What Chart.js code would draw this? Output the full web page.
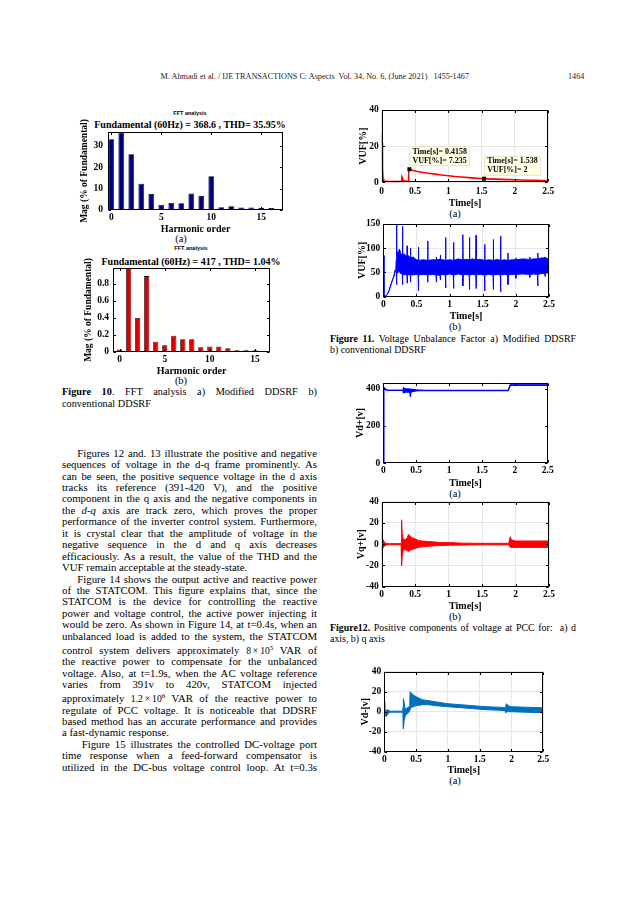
<!DOCTYPE html>
<html>
<head>
<meta charset="utf-8">
<script src="https://cdn.jsdelivr.net/npm/chart.js@4.4.0/dist/chart.umd.min.js"></script>
<style>
html,body{margin:0;padding:0;background:#fff;}
#page{position:relative;width:638px;height:902px;overflow:hidden;background:#fff;font-family:"Liberation Serif","Times New Roman",serif;color:#000;}
.t{position:absolute;white-space:nowrap;line-height:1;}
canvas{position:absolute;}
</style>
</head>
<body>
<div id="page"></div>
<script>
// ---------------- DATA ----------------
const fftHarm = [0,1,2,3,4,5,6,7,8,9,10,11,12,13,14,15,16];
const fftA = [33, 36.2, 26, 12.3, 7.5, 2.5, 3.3, 3.2, 7.7, 6.5, 15.8, 1.3, 1.8, 1.2, 1.2, 1.0, 0.9];
const fftB = [0.03, 1.0, 0.40, 0.89, 0.12, 0.08, 0.19, 0.15, 0.15, 0.055, 0.065, 0.065, 0.045, 0.02, 0.02, 0.02, 0.005];
const fftXTicks = [0, 5, 10, 15];
const fftAYTicks = [0, 10, 20, 30];
const fftBYTicks = [0, 0.2, 0.4, 0.6, 0.8];
const timeTicks = [0, 0.5, 1, 1.5, 2, 2.5];

// Fig 11 (a) VUF modified DDSRF
const vufA_t = [0, 0.005, 0.012, 0.02, 0.03, 0.05, 0.1, 0.2, 0.29, 0.30, 0.305, 0.31, 0.32, 0.34, 0.37, 0.40, 0.405, 0.4158, 0.45, 0.5, 0.6, 0.7, 0.8, 0.9, 1.0, 1.1, 1.2, 1.3, 1.4, 1.538, 1.6, 1.7, 1.8, 1.9, 2.0, 2.1, 2.2, 2.3, 2.4, 2.5];
const vufA_v = [27, 22, 8, 2, 0.8, 0.5, 0.4, 0.4, 0.4, 1.5, 2.8, 2.2, 1.2, 0.8, 0.6, 0.6, 5.5, 7.235, 6.8, 6.3, 5.6, 5.0, 4.5, 4.0, 3.6, 3.2, 2.9, 2.6, 2.3, 2.0, 1.9, 1.75, 1.6, 1.5, 1.4, 1.25, 1.15, 1.05, 0.95, 0.85];
const vufA_tipT = [0.4158, 1.538];
const vufA_tipV = [7.235, 2];
const vufYTicks = [0, 20, 40];

// Fig 11 (b) VUF conventional DDSRF (upper / lower envelope of the band)
const vufB_t  = [0, 0.008, 0.02, 0.04, 0.06, 0.08, 0.10, 0.12, 0.14, 0.16, 0.18,
  0.19, 0.196, 0.20, 0.204, 0.22, 0.245, 0.26, 0.286, 0.29, 0.294, 0.32, 0.356, 0.36, 0.364, 0.38, 0.406, 0.41, 0.414, 0.45, 0.5, 0.526, 0.53, 0.534, 0.6, 0.666, 0.67, 0.674, 0.74, 0.796, 0.80, 0.804, 0.856, 0.86, 0.864, 0.9, 0.936, 0.94, 0.944, 1.0, 1.056, 1.06, 1.064, 1.13, 1.196, 1.20, 1.204, 1.25, 1.296, 1.30, 1.304, 1.35, 1.396, 1.40, 1.404, 1.46, 1.526, 1.53, 1.534, 1.6, 1.656, 1.66, 1.664, 1.72, 1.766, 1.77, 1.774, 1.83, 1.876, 1.88, 1.884, 1.94, 1.996, 2.0, 2.004, 2.1, 2.206, 2.21, 2.214, 2.27, 2.326, 2.33, 2.334, 2.39, 2.436, 2.44, 2.444, 2.5];
const vufB_hi = [85, 5, 1, 2, 5, 10, 18, 27, 35, 42, 55,
  62, 78, 148, 85, 92, 98, 90, 85, 145, 88, 88, 82, 105, 82, 85, 80, 100, 80, 82, 76, 76, 102, 75, 76, 75, 115, 75, 76, 76, 82, 76, 77, 86, 77, 76, 75, 122, 75, 76, 75, 112, 75, 78, 76, 128, 76, 77, 76, 122, 76, 78, 76, 127, 76, 77, 75, 108, 75, 76, 75, 118, 75, 77, 75, 125, 75, 76, 75, 90, 75, 76, 76, 80, 76, 78, 77, 82, 77, 78, 78, 90, 78, 80, 80, 82, 80, 78];
const vufB_lo = [85, 5, 1, 2, 5, 10, 18, 27, 35, 42, 55,
  55, 50, 25, 48, 50, 52, 48, 47, 25, 47, 45, 46, 28, 46, 45, 46, 30, 45, 45, 46, 45, 12, 45, 46, 45, 30, 45, 46, 45, 30, 45, 44, 35, 45, 46, 45, 18, 45, 47, 45, 17, 45, 47, 45, 22, 45, 46, 45, 15, 45, 46, 45, 17, 45, 46, 45, 12, 45, 46, 45, 15, 45, 46, 45, 10, 45, 46, 45, 25, 45, 46, 46, 38, 46, 47, 46, 40, 46, 47, 46, 22, 46, 48, 48, 42, 48, 50];
const vufBYTicks = [0, 50, 100, 150];

// Fig 12 (a) Vd+
const vdp_t  = [0, 0.003, 0.01, 0.02, 0.04, 0.06, 0.3, 0.305, 0.32, 0.35, 0.38, 0.405, 0.41, 0.415, 0.45, 0.5, 0.55, 0.6, 1.0, 1.9, 1.93, 1.95, 2.5];
const vdp_hi = [0, 400, 405, 402, 395, 391, 391, 405, 402, 398, 399, 396, 380, 398, 397, 394, 393, 392, 391, 391, 421, 421, 421];
const vdp_lo = [0, 400, 405, 402, 395, 391, 391, 378, 380, 383, 382, 380, 360, 380, 385, 388, 389, 390, 390, 390, 418, 418, 418];
const vdpYTicks = [0, 200, 400];

// Fig 12 (b) Vq+
const vqp_t  = [0, 0.005, 0.01, 0.02, 0.04, 0.06, 0.1, 0.29, 0.295, 0.30, 0.305, 0.32, 0.35, 0.38, 0.40, 0.42, 0.45, 0.5, 0.55, 0.6, 0.7, 0.8, 0.9, 1.0, 1.2, 1.5, 1.9, 1.91, 1.92, 1.94, 2.0, 2.2, 2.5];
const vqp_hi = [12, 10, 6, 4, 2, 1, 0.5, 0.5, 8, 23, 10, 5, 4, 6, 9, 8, 6, 5, 3.5, 3, 2.5, 2, 1.5, 1.5, 1, 0.8, 0.8, 4, 7, 4, 3, 3, 3];
const vqp_lo = [-10, -8, -5, -3, -2, -1, -0.5, -0.5, -5, -20, -12, -6, -5, -6, -7, -6, -5, -4, -3, -2.5, -2, -1.5, -1.2, -1, -0.8, -0.6, -0.6, -2, -3, -3, -3, -3, -3];
const symYTicks = [-40, -20, 0, 20, 40];

// Fig 13 (a) Vd-
const vdn_t  = [0, 0.005, 0.01, 0.02, 0.03, 0.05, 0.08, 0.1, 0.29, 0.295, 0.30, 0.31, 0.33, 0.36, 0.39, 0.40, 0.405, 0.42, 0.45, 0.5, 0.6, 0.7, 0.8, 0.9, 1.0, 1.2, 1.4, 1.6, 1.8, 1.9, 1.91, 1.92, 1.95, 2.0, 2.2, 2.5];
const vdn_hi = [10, 8, 3, 2, 1, 2, 1, 0.5, 0.5, 5, 13, 10, 2, 4, 5, 6, 20, 19, 17, 15, 12, 11, 10, 9, 8, 7, 6, 5, 4.5, 4, 6, 8, 6, 5, 4.5, 4];
const vdn_lo = [-2, -5, -4, -3, -5, -3, -1, -0.5, -0.5, -3, -17, -10, -4, -2, 0, 0, 2, 4, 5, 6, 7, 7, 6, 5.5, 5, 4, 3, 2, 1.5, 1, -1, 0, 0, 0, -0.5, -1];

// ---------------- PAGE ----------------
const page = document.getElementById('page');
const SERIF = '"Liberation Serif", "Times New Roman", serif';
const SANS = '"Liberation Sans", Arial, sans-serif';

function txt(html, x, y, o) {
  o = o || {};
  const d = document.createElement('div');
  d.className = 't';
  const size = o.size || 10.5;
  d.style.fontSize = size + 'px';
  d.style.fontWeight = o.weight || 'normal';
  d.style.fontFamily = o.family || SERIF;
  if (o.color) d.style.color = o.color;
  if (o.align === 'center') {
    d.style.left = (x - 150) + 'px'; d.style.width = '300px'; d.style.textAlign = 'center';
  } else if (o.align === 'right') {
    d.style.left = (x - 400) + 'px'; d.style.width = '400px'; d.style.textAlign = 'right';
  } else if (o.w) {
    d.style.left = x + 'px'; d.style.width = o.w + 'px'; d.style.whiteSpace = 'normal';
    if (o.justify) { d.style.textAlign = 'justify'; d.style.textAlignLast = 'justify'; }
  } else {
    d.style.left = x + 'px';
  }
  d.style.top = (y - size / 2) + 'px';
  d.innerHTML = html;
  page.appendChild(d);
}

// header
txt('M. Ahmadi et al. / IJE TRANSACTIONS C: Aspects&nbsp; Vol. 34, No. 6, (June 2021)&nbsp;&nbsp; 1455-1467', 469, 77, {size: 8.2, align: 'right', color: '#222'});
txt('1464', 568, 77, {size: 8.2, color: '#222'});

// FFT titles / labels
txt('FFT analysis', 190, 114, {size: 5.5, weight: 'bold', family: SANS, align: 'center'});
txt('Fundamental (60Hz) = 368.6 , THD= 35.95%', 190, 125, {size: 10, weight: 'bold', align: 'center'});
txt('(a)', 181, 239, {size: 10.5, align: 'center'});
txt('FFT analysis', 191, 249, {size: 5.5, weight: 'bold', family: SANS, align: 'center'});
txt('Fundamental (60Hz) = 417 , THD= 1.04%', 191, 261.5, {size: 10, weight: 'bold', align: 'center'});
txt('(b)', 181, 381, {size: 10.5, align: 'center'});

// left caption
txt('<b>Figure 10</b>. FFT analysis a) Modified DDSRF b)', 62, 392.5, {size: 10.3, w: 255, justify: true});
txt('conventional DDSRF', 62, 404, {size: 10.3});

// right labels and captions
txt('(a)', 455, 214, {size: 10.5, align: 'center'});
txt('(b)', 455, 327.5, {size: 10.5, align: 'center'});
txt('<b>Figure 11.</b> Voltage Unbalance Factor a) Modified DDSRF', 330, 338.5, {size: 9.9, w: 246, justify: true});
txt('b) conventional DDSRF', 330, 349.5, {size: 9.9});
txt('(a)', 455, 494, {size: 10.5, align: 'center'});
txt('(b)', 455, 617, {size: 10.5, align: 'center'});
txt('<b>Figure12.</b> Positive components of voltage at PCC for:&nbsp; a) d', 330, 628, {size: 9.9, w: 246, justify: true});
txt('axis, b) q axis', 330, 639, {size: 9.9});
txt('(a)', 455, 781, {size: 10.5, align: 'center'});

// body text
const sup5 = '<span style="font-size:9.6px">8&thinsp;×&thinsp;10<span style="font-size:7px;position:relative;top:-4px">5</span></span>';
const sup6 = '<span style="font-size:9.6px">1.2&thinsp;×&thinsp;10<span style="font-size:7px;position:relative;top:-4px">6</span></span>';
const bodyLines = [
  ['&nbsp;&nbsp;&nbsp;&nbsp;Figures 12 and. 13 illustrate the positive and negative', 1],
  ['sequences of voltage in the d-q frame prominently. As', 1],
  ['can be seen, the positive sequence voltage in the d axis', 1],
  ['tracks its reference (391-420 V), and the positive', 1],
  ['component in the q axis and the negative components in', 1],
  ['the <i>d-q</i> axis are track zero, which proves the proper', 1],
  ['performance of the inverter control system. Furthermore,', 1],
  ['it is crystal clear that the amplitude of voltage in the', 1],
  ['negative sequence in the d and q axis decreases', 1],
  ['efficaciously. As a result, the value of the THD and the', 1],
  ['VUF remain acceptable at the steady-state.', 0],
  ['&nbsp;&nbsp;&nbsp;&nbsp;Figure 14 shows the output active and reactive power', 1],
  ['of the STATCOM. This figure explains that, since the', 1],
  ['STATCOM is the device for controlling the reactive', 1],
  ['power and voltage control, the active power injecting it', 1],
  ['would be zero. As shown in Figure 14, at t=0.4s, when an', 1],
  ['unbalanced load is added to the system, the STATCOM', 1],
  ['control system delivers approximately ' + sup5 + ' VAR of', 1],
  ['the reactive power to compensate for the unbalanced', 1],
  ['voltage. Also, at t=1.9s, when the AC voltage reference', 1],
  ['varies from 391v to 420v, STATCOM injected', 1],
  ['approximately ' + sup6 + ' VAR of the reactive power to', 1],
  ['regulate of PCC voltage. It is noticeable that DDSRF', 1],
  ['based method has an accurate performance and provides', 1],
  ['a fast-dynamic response.', 0],
  ['&nbsp;&nbsp;&nbsp;&nbsp;Figure 15 illustrates the controlled DC-voltage port', 1],
  ['time response when a feed-forward compensator is', 1],
  ['utilized in the DC-bus voltage control loop. At t=0.3s', 1]
];
bodyLines.forEach((l, i) => {
  let y = 453 + i * 11.45 + (i >= 17 ? 2.5 : 0) + (i >= 21 ? 2.5 : 0);
  if (l[1]) txt(l[0], 62, y, {size: 10.8, w: 255, justify: true});
  else txt(l[0], 62, y, {size: 10.8});
});

// ---------------- CHARTS ----------------
const framePlugin = {
  id: 'frame',
  afterDatasetsDraw(chart) {
    const a = chart.chartArea, ctx = chart.ctx;
    const L = Math.round(a.left) + 0.5, T = Math.round(a.top) + 0.5, R = Math.round(a.right) - 0.5, B = Math.round(a.bottom) - 0.5;
    ctx.save();
    ctx.strokeStyle = '#000'; ctx.lineWidth = 1;
    ctx.strokeRect(L, T, R - L, B - T);
    const tl = 2.5;
    ctx.beginPath();
    chart.scales.x.ticks.forEach(t => {
      const px = Math.round(chart.scales.x.getPixelForValue(t.value)) + 0.5;
      ctx.moveTo(px, B); ctx.lineTo(px, B - tl);
      ctx.moveTo(px, T); ctx.lineTo(px, T + tl);
    });
    chart.scales.y.ticks.forEach(t => {
      const py = Math.round(chart.scales.y.getPixelForValue(t.value)) + 0.5;
      ctx.moveTo(L, py); ctx.lineTo(L + tl, py);
      ctx.moveTo(R, py); ctx.lineTo(R - tl, py);
    });
    ctx.stroke();
    ctx.restore();
  }
};

function plot(c) {
  const yTS = c.yTitleSize || 10, xTS = c.xTitleSize || 10, tS = c.tickSize || 9.5;
  const CL = Math.floor(c.yTitleX - yTS * 0.6 - 1);
  const CT = Math.floor(c.PT - (c.topMargin || 10));
  const CR = Math.ceil(c.PR + 12);
  const CB = Math.ceil(c.xTitleY + xTS * 0.6);
  const W = CR - CL, H = CB - CT;
  const cv = document.createElement('canvas');
  cv.style.left = CL + 'px'; cv.style.top = CT + 'px';
  cv.style.width = W + 'px'; cv.style.height = H + 'px';
  cv.width = W; cv.height = H;
  page.appendChild(cv);
  const tickFont = {family: SERIF, size: tS, weight: 'bold'};
  const grid = {display: !!c.grid, color: '#e0e0e0', lineWidth: 0.8, drawTicks: false};
  new Chart(cv, {
    type: c.type,
    data: {datasets: c.datasets},
    options: {
      responsive: false, maintainAspectRatio: false, animation: false, events: [],
      layout: {padding: {left: 0, top: c.PT - CT, right: CR - c.PR, bottom: 0}},
      plugins: {legend: {display: false}, tooltip: {enabled: false}, title: {display: false}},
      scales: {
        x: {
          type: 'linear', min: c.xMin, max: c.xMax, offset: false,
          afterBuildTicks: s => { s.ticks = c.xTicks.map(v => ({value: v})); },
          afterFit: s => { s.height = CB - c.PB; },
          ticks: {autoSkip: false, maxRotation: 0, padding: c.xTickY - c.PB - 0.6 * tS, color: '#000', font: tickFont, callback: v => String(v)},
          grid: grid, border: {display: false},
          title: {display: true, text: c.xTitle, color: '#000', font: {family: SERIF, size: xTS, weight: 'bold'}, padding: {top: 0, bottom: 0}}
        },
        y: {
          type: 'linear', min: c.yMin, max: c.yMax,
          afterBuildTicks: s => { s.ticks = c.yTicks.map(v => ({value: v})); },
          afterFit: s => { s.width = c.PL - CL; },
          ticks: {autoSkip: false, padding: c.yTickPad || 3, color: '#000', font: tickFont, callback: v => String(v)},
          grid: grid, border: {display: false},
          title: {display: true, text: c.yTitle, color: '#000', font: {family: SERIF, size: yTS, weight: 'bold'}, padding: {top: c.yTitleX - CL - yTS * 0.6, bottom: 0}}
        }
      }
    },
    plugins: [framePlugin].concat(c.extra || [])
  });
}

function pts(t, v) { return t.map((x, i) => ({x: x, y: v[i]})); }
function band(t, lo, hi, color, w) {
  return [
    {type: 'line', data: pts(t, lo), borderColor: color, borderWidth: w, pointRadius: 0, fill: false, tension: 0},
    {type: 'line', data: pts(t, hi), borderColor: color, borderWidth: w, backgroundColor: color, pointRadius: 0, fill: '-1', tension: 0}
  ];
}

// FFT (a)
plot({
  type: 'bar', PL: 108, PT: 132, PR: 283, PB: 210, yTitleX: 85, xTickY: 218, xTitleY: 228.5, topMargin: 20,
  xMin: -0.33, xMax: 17.17, xTicks: fftXTicks, yMin: 0, yMax: 36.4, yTicks: fftAYTicks,
  xTitle: 'Harmonic order', yTitle: 'Mag (% of Fundamental)', yTitleSize: 9.5, grid: false, tickSize: 9.5, yTickPad: 5,
  datasets: [{data: pts(fftHarm, fftA), backgroundColor: '#00007a', borderColor: '#000033', borderWidth: 0.8, barPercentage: 0.58, categoryPercentage: 1}]
});
// FFT (b)
plot({
  type: 'bar', PL: 113, PT: 268, PR: 270, PB: 352, yTitleX: 89, xTickY: 359.5, xTitleY: 371, topMargin: 14,
  xMin: -0.74, xMax: 16.67, xTicks: fftXTicks, yMin: 0, yMax: 0.985, yTicks: fftBYTicks,
  xTitle: 'Harmonic order', yTitle: 'Mag (% of Fundamental)', yTitleSize: 9.5, grid: false, tickSize: 9.5, yTickPad: 4,
  datasets: [{data: pts(fftHarm, fftB), backgroundColor: '#dd0000', borderColor: '#220000', borderWidth: 0.8, barPercentage: 0.58, categoryPercentage: 1}]
});

// VUF (a) with data tips
const tipPlugin = {
  id: 'tips',
  afterDatasetsDraw(chart) {
    const ctx = chart.ctx, xs = chart.scales.x, ys = chart.scales.y;
    ctx.save();
    ctx.font = 'bold 8px ' + SERIF;
    vufA_tipT.forEach((tv, i) => {
      const px = xs.getPixelForValue(tv), py = ys.getPixelForValue(vufA_tipV[i]);
      const lines = ['Time[s]= ' + String(tv), 'VUF[%]= ' + String(vufA_tipV[i])];
      const w = Math.max(...lines.map(s => ctx.measureText(s).width)) + 6;
      const h = 20;
      const bx = px, by = py - 3 - h;
      ctx.fillStyle = 'rgba(255,255,228,0.92)';
      ctx.fillRect(bx, by, w, h);
      ctx.strokeStyle = 'rgba(200,200,180,0.8)'; ctx.lineWidth = 0.6;
      ctx.strokeRect(bx + 0.5, by + 0.5, w - 1, h - 1);
      ctx.fillStyle = '#000'; ctx.textBaseline = 'middle'; ctx.textAlign = 'left';
      ctx.fillText(lines[0], bx + 3, by + 5.7);
      ctx.fillText(lines[1], bx + 3, by + 14.5);
      ctx.fillRect(px - 2, py - 2, 4, 4);
    });
    ctx.restore();
  }
};
plot({
  type: 'line', PL: 381.7, PT: 110, PR: 548.3, PB: 182.3, yTitleX: 363, xTickY: 191.7, xTitleY: 202.3,
  xMin: 0, xMax: 2.5, xTicks: timeTicks, yMin: 0, yMax: 40, yTicks: vufYTicks,
  xTitle: 'Time[s]', yTitle: 'VUF[%]', grid: true,
  datasets: [{data: pts(vufA_t, vufA_v), borderColor: '#ff0000', borderWidth: 1.6, pointRadius: 0, fill: false, tension: 0}],
  extra: [tipPlugin]
});
// VUF (b)
plot({
  type: 'line', PL: 383.3, PT: 224, PR: 549, PB: 296.7, yTitleX: 362, xTickY: 305, xTitleY: 316,
  xMin: 0, xMax: 2.5, xTicks: timeTicks, yMin: 0, yMax: 150, yTicks: vufBYTicks,
  xTitle: 'Time[s]', yTitle: 'VUF[%]', grid: true,
  datasets: band(vufB_t, vufB_lo, vufB_hi, '#0000ff', 1)
});
// Vd+
plot({
  type: 'line', PL: 383.3, PT: 382.7, PR: 547.7, PB: 463.3, yTitleX: 360.5, xTickY: 470.7, xTitleY: 482.7,
  xMin: 0, xMax: 2.5, xTicks: timeTicks, yMin: 0, yMax: 432, yTicks: vdpYTicks,
  xTitle: 'Time[s]', yTitle: 'Vd+[v]', grid: false,
  datasets: band(vdp_t, vdp_lo, vdp_hi, '#0000ff', 1.2)
});
// Vq+
plot({
  type: 'line', PL: 381.7, PT: 501.7, PR: 549, PB: 586.7, yTitleX: 361, xTickY: 595, xTitleY: 606,
  xMin: 0, xMax: 2.5, xTicks: timeTicks, yMin: -40, yMax: 40, yTicks: symYTicks,
  xTitle: 'Time[s]', yTitle: 'Vq+[v]', grid: true,
  datasets: band(vqp_t, vqp_lo, vqp_hi, '#ff0000', 1)
});
// Vd-
plot({
  type: 'line', PL: 384.3, PT: 671.7, PR: 543.3, PB: 751.7, yTitleX: 365, xTickY: 760, xTitleY: 770,
  xMin: 0, xMax: 2.5, xTicks: timeTicks, yMin: -40, yMax: 40, yTicks: symYTicks,
  xTitle: 'Time[s]', yTitle: 'Vd-[v]', grid: true,
  datasets: band(vdn_t, vdn_lo, vdn_hi, '#0072bd', 1)
});
</script>
</body>
</html>
